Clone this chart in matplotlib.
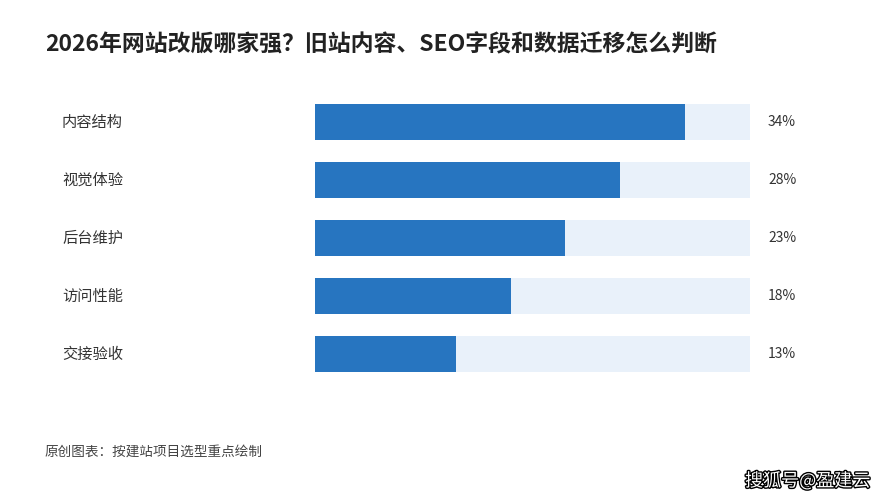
import matplotlib.pyplot as plt
import matplotlib.patheffects as pe
import matplotlib.transforms as mtransforms

plt.rcParams['font.family'] = ['Noto Sans CJK SC', 'DejaVu Sans']

categories = ['内容结构', '视觉体验', '后台维护', '访问性能', '交接验收']
values = [34, 28, 23, 18, 13]
track_max = 40

fig = plt.figure(figsize=(8.87, 5), dpi=100)
ax = fig.add_axes([315 / 887, 1 - 383 / 500, 435 / 887, 290 / 500])

ys = list(range(len(categories)))
ax.barh(ys, [track_max] * len(ys), height=0.61, color='#e9f1fa', zorder=1)
ax.barh(ys, values, height=0.61, color='#2775c0', zorder=2)
ax.set_xlim(0, track_max)
ax.set_ylim(len(categories) - 0.5, -0.5)
ax.axis('off')

label_tf = mtransforms.blended_transform_factory(fig.transFigure, ax.transData)
for y, cat, v in zip(ys, categories, values):
    ax.text(62 / 887, y, cat, transform=label_tf, fontsize=11, color='#333333',
            ha='left', va='center')
    ax.annotate(f'{v}%', xy=(track_max, y), xytext=(13, 0), textcoords='offset points',
                fontsize=10, color='#333333', ha='left', va='center')

fig.text(45 / 887, 1 - 45 / 500, '2026年网站改版哪家强？旧站内容、SEO字段和数据迁移怎么判断',
         fontsize=16.5, fontweight='bold', color='#222222', ha='left', va='center')
fig.text(45 / 887, 1 - 452 / 500, '原创图表：按建站项目选型重点绘制',
         fontsize=9.8, color='#444444', ha='left', va='center')
fig.text(870 / 887, 1 - 481 / 500, '搜狐号@盈建云', fontsize=13, color='white', ha='right', va='center',
         path_effects=[pe.withStroke(linewidth=2, foreground='black')])

fig.savefig('out.png', dpi=100)
